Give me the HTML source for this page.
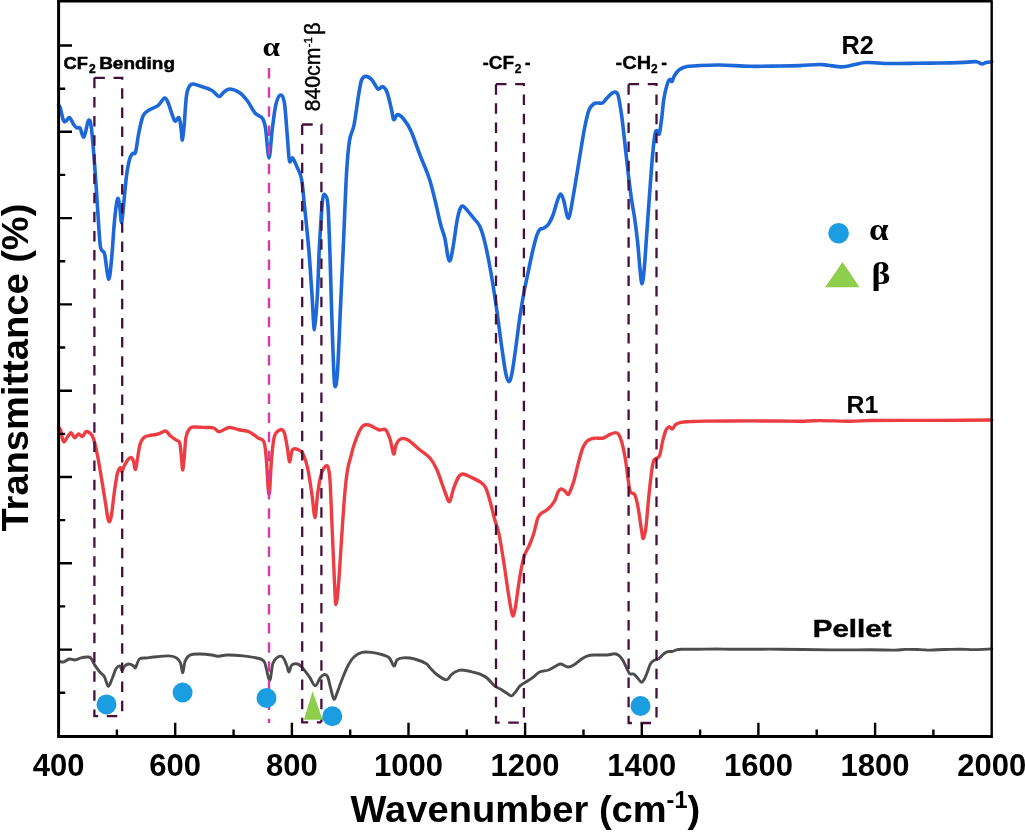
<!DOCTYPE html>
<html lang="en"><head><meta charset="utf-8"><title>FTIR spectra</title>
<style>html,body{margin:0;padding:0;background:#fff;overflow:hidden}svg{display:block}text{font-family:"Liberation Sans",sans-serif;fill:#000}.b{font-weight:700}.h{stroke:#000;stroke-width:.5}.h2{stroke:#000;stroke-width:.45}.h3{stroke:#000;stroke-width:.3}.gk{font-family:"Liberation Serif","DejaVu Serif",serif;font-weight:700}.dash{fill:none;stroke:#47103c;stroke-width:2.3;stroke-dasharray:10.5 8.64}</style></head><body>
<svg width="1025" height="832" viewBox="0 0 1025 832">
<rect x="0" y="0" width="1025" height="832" fill="#fff"/>
<path d="M58.7 661.0C59.5 661.2 61.6 662.3 63.4 662.0C65.2 661.7 67.4 659.3 69.3 659.0C71.2 658.7 73.0 660.2 75.0 660.0C77.0 659.8 79.0 658.4 81.0 657.9C83.0 657.4 85.2 657.0 86.8 657.0C88.4 657.0 89.4 656.6 90.7 657.9C92.0 659.2 93.0 662.4 94.6 664.9C96.2 667.4 98.9 670.8 100.5 672.7C102.1 674.7 103.1 674.3 104.4 676.6C105.7 678.9 107.0 686.0 108.3 686.3C109.6 686.6 110.9 681.4 112.2 678.5C113.5 675.6 114.7 670.9 116.0 668.8C117.3 666.7 119.0 665.7 120.0 666.0C121.0 666.3 121.2 670.7 122.0 670.7C122.8 670.7 123.5 667.1 124.7 666.0C125.9 664.9 127.5 664.0 129.0 664.0C130.5 664.0 132.6 665.4 133.7 666.0C134.8 666.6 134.6 668.8 135.6 667.6C136.6 666.4 137.6 660.6 139.5 659.0C141.4 657.4 144.4 658.3 147.3 657.9C150.2 657.5 153.4 657.0 157.0 656.7C160.6 656.4 165.5 655.7 168.8 655.9C172.1 656.1 174.7 656.7 176.6 657.9C178.5 659.1 179.5 660.5 180.5 663.0C181.5 665.5 182.0 673.0 182.8 672.7C183.6 672.4 184.0 664.0 185.2 661.0C186.4 658.0 187.7 656.2 190.2 655.0C192.7 653.8 196.4 654.0 200.0 654.0C203.6 654.0 208.8 654.6 211.7 655.0C214.6 655.4 215.0 656.3 217.6 656.3C220.2 656.3 223.1 655.1 227.3 655.0C231.5 654.9 238.1 655.4 243.0 655.9C247.9 656.4 253.0 657.0 256.6 658.0C260.2 659.0 262.2 658.2 264.4 662.0C266.5 665.8 268.1 680.3 269.5 680.5C270.9 680.7 271.6 666.9 273.0 663.0C274.4 659.1 276.4 658.0 278.0 657.0C279.6 656.0 281.3 655.7 282.7 657.0C284.1 658.3 285.6 662.5 286.6 665.0C287.7 667.5 288.1 672.0 289.0 672.0C289.9 672.0 290.3 666.3 291.7 665.0C293.1 663.7 296.0 663.7 297.6 664.0C299.2 664.3 299.6 664.7 301.5 666.8C303.4 668.9 307.0 673.4 309.3 676.6C311.6 679.8 313.4 685.6 315.2 685.8C317.0 686.0 318.7 679.7 320.2 677.8C321.7 675.9 322.8 674.8 324.0 674.6C325.2 674.4 326.5 674.3 327.6 676.6C328.7 678.9 329.6 684.5 330.7 688.3C331.8 692.1 332.8 698.6 333.9 699.2C335.0 699.8 336.0 695.5 337.4 692.0C338.8 688.5 340.6 683.0 342.4 678.5C344.2 674.0 346.4 668.6 348.3 665.0C350.2 661.4 351.7 659.1 354.0 657.0C356.3 654.9 359.1 653.2 362.0 652.4C364.9 651.6 368.1 652.0 371.7 652.4C375.3 652.8 380.5 654.1 383.4 655.0C386.3 655.9 387.5 656.1 389.3 657.9C391.1 659.7 392.7 665.6 394.0 666.0C395.3 666.4 395.5 661.4 397.0 660.0C398.5 658.6 400.1 658.1 403.0 657.9C405.9 657.7 410.7 658.0 414.6 659.0C418.5 660.0 423.7 662.2 426.3 663.7C428.9 665.2 428.1 665.9 430.0 667.8C431.9 669.7 434.8 673.0 437.5 675.0C440.2 677.0 444.2 679.9 446.5 679.9C448.8 679.9 449.5 676.4 451.0 675.0C452.5 673.6 453.8 672.6 455.5 671.8C457.2 671.0 458.8 670.0 461.5 670.0C464.2 670.0 469.0 671.1 472.0 671.8C475.0 672.4 477.0 672.9 479.5 673.9C482.0 674.9 484.5 676.0 487.0 678.0C489.5 680.0 492.1 683.9 494.6 685.9C497.1 687.9 499.8 688.6 502.0 690.0C504.2 691.4 506.4 693.0 508.0 694.0C509.6 695.0 510.4 696.1 511.7 695.8C513.0 695.4 514.2 693.5 515.6 691.9C517.0 690.2 518.0 687.7 520.0 685.9C522.0 684.1 525.3 682.5 527.6 681.0C529.9 679.5 531.6 678.4 533.6 676.9C535.6 675.4 537.1 673.1 539.6 672.0C542.1 670.9 545.9 671.0 548.6 670.0C551.3 669.0 553.9 667.0 556.0 666.0C558.1 665.0 559.0 663.8 561.0 664.0C563.0 664.2 565.8 666.9 568.0 667.0C570.2 667.1 571.7 666.1 574.0 664.8C576.3 663.5 579.3 660.5 581.6 659.0C583.9 657.5 585.5 656.5 587.7 655.8C589.9 655.1 591.8 655.1 595.0 655.0C598.2 654.9 603.7 655.2 607.0 655.0C610.3 654.8 612.7 653.6 614.7 653.7C616.7 653.8 617.6 654.5 619.0 655.6C620.4 656.7 621.7 658.4 623.0 660.5C624.3 662.6 625.7 666.1 626.8 668.3C627.9 670.5 628.6 672.8 629.8 673.8C630.9 674.8 632.4 673.3 633.7 674.0C635.0 674.7 636.3 676.6 637.6 678.0C638.9 679.4 640.4 682.1 641.5 682.3C642.6 682.5 643.4 680.7 644.4 679.0C645.4 677.3 646.3 674.6 647.3 672.2C648.3 669.8 649.2 666.3 650.2 664.4C651.2 662.5 652.1 661.7 653.2 660.9C654.3 660.1 655.9 660.0 657.0 659.5C658.1 659.0 658.8 658.6 660.0 657.6C661.2 656.6 662.7 654.7 664.0 653.7C665.3 652.7 666.3 652.1 667.8 651.7C669.2 651.3 671.2 651.6 672.7 651.3C674.2 651.0 675.1 650.1 676.6 649.8C678.1 649.4 678.1 649.3 681.5 649.2C684.9 649.1 691.1 649.3 697.0 649.3C702.9 649.3 710.1 649.0 716.6 649.0C723.1 649.0 725.4 649.3 736.0 649.3C746.6 649.3 764.3 649.1 780.0 649.2C795.7 649.3 815.0 649.8 830.0 649.9C845.0 650.0 859.2 649.8 870.0 649.8C880.8 649.8 889.2 650.2 895.0 650.1C900.8 650.0 900.8 649.5 905.0 649.4C909.2 649.3 915.8 649.5 920.0 649.6C924.2 649.7 925.8 650.1 930.0 650.1C934.2 650.1 940.0 649.6 945.0 649.5C950.0 649.4 955.0 649.2 960.0 649.2C965.0 649.2 969.7 649.7 975.0 649.6C980.3 649.5 989.0 649.0 991.8 648.9" fill="none" stroke="#4d4d4d" stroke-width="2.9" stroke-linejoin="round" stroke-linecap="round"/>
<path d="M58.5 428.0C58.8 428.3 59.7 427.3 60.5 429.6C61.3 431.9 62.4 440.4 63.5 441.6C64.7 442.8 66.2 438.5 67.4 437.0C68.7 435.5 69.8 432.5 71.0 432.6C72.2 432.7 73.3 437.5 74.6 437.7C75.8 437.9 77.2 434.2 78.5 434.0C79.8 433.8 81.2 436.9 82.4 436.5C83.7 436.1 84.7 432.2 86.0 431.7C87.3 431.2 89.2 432.4 90.5 433.5C91.8 434.6 92.3 435.0 93.5 438.6C94.7 442.2 96.1 448.3 97.4 455.0C98.8 461.7 100.2 471.0 101.6 479.0C102.9 487.0 104.5 496.7 105.5 503.0C106.5 509.3 106.9 513.6 107.6 516.7C108.2 519.8 108.8 522.1 109.4 521.8C110.1 521.5 110.7 520.1 111.5 515.0C112.3 509.9 113.5 498.0 114.5 491.0C115.5 484.0 116.5 476.9 117.5 473.0C118.5 469.1 119.8 467.9 120.5 467.7C121.2 467.5 121.3 472.0 122.0 471.6C122.7 471.2 123.4 467.6 124.4 465.6C125.4 463.6 126.9 461.0 128.0 459.6C129.1 458.2 130.1 457.3 131.0 457.5C131.9 457.7 132.7 459.0 133.4 461.0C134.2 463.0 134.8 470.0 135.5 469.5C136.2 469.0 136.8 462.1 137.6 458.0C138.3 453.9 139.0 448.0 140.0 444.6C141.0 441.2 142.2 439.2 143.7 437.7C145.2 436.2 146.6 436.2 149.0 435.6C151.4 435.0 155.2 434.8 158.0 434.0C160.8 433.2 163.6 430.7 165.6 431.0C167.6 431.3 168.3 434.1 170.0 435.6C171.7 437.1 174.4 438.8 176.0 440.0C177.6 441.2 178.8 440.0 179.7 443.0C180.6 446.0 181.0 453.5 181.5 458.0C182.0 462.5 182.2 470.0 182.7 470.0C183.1 470.0 183.6 463.5 184.2 458.0C184.8 452.5 185.1 441.9 186.0 437.0C186.9 432.1 188.3 430.4 189.6 428.7C190.9 427.0 191.3 427.2 194.0 427.0C196.7 426.8 202.7 427.3 206.0 427.5C209.3 427.7 211.5 427.3 213.6 428.0C215.7 428.7 217.1 431.4 218.8 431.7C220.5 432.0 222.1 430.3 224.0 429.6C225.9 428.9 227.3 427.4 230.0 427.5C232.7 427.6 236.8 429.3 240.0 430.0C243.2 430.7 246.0 430.4 249.0 431.7C252.0 433.0 255.5 436.1 258.0 437.8C260.5 439.5 262.6 438.3 264.0 442.0C265.4 445.7 265.6 451.2 266.4 460.0C267.2 468.8 268.1 495.0 269.0 495.0C269.9 495.0 270.6 469.8 271.5 460.0C272.4 450.2 273.0 441.1 274.5 436.0C276.0 430.9 278.9 430.2 280.5 429.7C282.1 429.2 283.2 429.9 284.4 433.0C285.5 436.1 286.5 443.2 287.4 448.0C288.2 452.8 288.6 461.5 289.5 461.8C290.4 462.1 291.0 451.8 292.5 449.8C294.0 447.8 296.9 449.1 298.6 449.8C300.4 450.5 301.5 451.0 303.0 454.0C304.5 457.0 306.1 461.2 307.6 468.0C309.1 474.8 310.8 486.7 312.0 495.0C313.2 503.3 314.1 517.6 315.0 517.6C315.9 517.6 316.6 501.8 317.5 495.0C318.4 488.2 319.4 481.5 320.5 477.0C321.6 472.5 322.8 469.8 324.0 468.0C325.2 466.2 326.7 464.5 327.7 466.5C328.7 468.5 329.3 470.2 330.0 480.0C330.7 489.8 331.2 507.5 332.0 525.0C332.8 542.5 333.9 571.7 334.6 585.0C335.3 598.3 335.4 604.7 336.0 604.7C336.6 604.7 337.6 595.8 338.5 585.0C339.4 574.2 340.5 554.7 341.5 540.0C342.5 525.3 343.5 508.7 344.5 497.0C345.5 485.3 346.4 476.8 347.5 470.0C348.6 463.2 349.9 460.2 351.0 456.0C352.1 451.8 352.7 448.8 354.0 445.0C355.3 441.2 357.1 436.2 358.6 433.0C360.1 429.8 361.3 427.1 363.0 425.8C364.7 424.5 367.0 424.6 369.0 425.0C371.0 425.4 373.2 427.2 375.0 428.0C376.8 428.8 377.8 429.7 379.6 430.0C381.4 430.3 383.9 428.2 385.6 429.7C387.3 431.2 388.6 434.9 390.0 439.0C391.4 443.1 392.7 453.0 393.7 454.0C394.7 455.0 394.9 447.5 396.0 445.0C397.1 442.5 398.6 439.8 400.6 439.0C402.6 438.2 404.8 438.2 408.0 440.0C411.2 441.8 416.3 447.0 420.0 450.0C423.7 453.0 427.2 454.7 430.0 458.0C432.8 461.3 434.5 464.3 437.0 470.0C439.5 475.7 442.9 486.7 445.0 492.0C447.1 497.3 448.1 502.2 449.5 501.7C450.9 501.2 451.9 493.1 453.4 489.0C454.9 484.9 456.9 479.5 458.5 477.0C460.1 474.5 460.8 473.9 463.0 474.0C465.2 474.1 469.0 476.2 472.0 477.6C475.0 479.0 478.7 480.8 481.0 482.5C483.3 484.2 484.1 484.5 485.6 487.6C487.1 490.7 488.5 495.8 490.0 501.0C491.5 506.2 493.1 513.5 494.6 519.0C496.1 524.5 497.5 527.0 499.0 534.0C500.5 541.0 502.1 551.5 503.6 561.0C505.1 570.5 506.8 583.0 508.0 591.0C509.2 599.0 510.1 604.9 511.0 609.0C511.9 613.1 512.4 616.4 513.2 615.9C514.0 615.4 514.7 611.1 515.6 606.0C516.5 600.9 517.6 591.5 518.6 585.0C519.6 578.5 520.6 572.0 521.6 567.0C522.6 562.0 523.4 558.5 524.6 555.0C525.8 551.5 527.5 549.5 529.0 546.0C530.5 542.5 532.1 538.7 533.6 534.0C535.1 529.3 536.5 521.2 538.0 517.6C539.5 514.0 540.8 514.0 542.6 512.5C544.4 511.0 546.6 510.5 548.6 508.6C550.6 506.7 553.0 503.8 554.6 501.0C556.2 498.2 556.9 494.0 558.0 492.0C559.1 490.0 559.9 489.2 561.0 489.0C562.1 488.8 563.3 489.7 564.5 490.6C565.7 491.5 567.2 494.8 568.3 494.5C569.4 494.2 570.1 491.1 571.0 489.0C571.9 486.9 572.5 485.7 573.7 481.6C574.9 477.5 576.6 469.8 578.0 464.4C579.4 459.0 581.0 453.0 582.2 449.4C583.5 445.8 584.4 444.6 585.5 443.0C586.6 441.4 587.3 440.8 588.7 440.0C590.1 439.2 591.7 438.5 594.0 438.2C596.3 437.9 600.5 438.5 602.6 438.2C604.7 437.9 605.3 437.1 606.5 436.5C607.7 435.9 608.5 435.0 610.0 434.4C611.5 433.8 614.0 432.6 615.5 432.6C617.0 432.6 617.6 432.7 618.7 434.4C619.8 436.1 620.9 439.1 622.0 443.0C623.1 446.9 624.1 451.6 625.2 458.0C626.3 464.4 627.5 475.9 628.4 481.6C629.3 487.3 629.4 489.8 630.5 492.0C631.6 494.2 633.5 492.3 634.8 494.8C636.0 497.3 636.9 501.3 638.0 507.0C639.1 512.7 640.4 523.6 641.3 528.8C642.2 534.0 642.5 538.8 643.3 538.4C644.1 538.0 645.1 533.7 646.0 526.7C646.9 519.7 647.8 506.3 648.8 496.6C649.8 486.9 651.1 474.8 652.0 468.7C652.9 462.6 652.9 462.1 654.1 460.0C655.4 457.9 658.1 459.0 659.5 455.8C660.9 452.6 661.6 445.1 662.7 440.8C663.8 436.5 664.9 432.3 666.0 430.0C667.1 427.7 668.1 427.0 669.2 426.8C670.3 426.6 671.3 429.4 672.4 429.0C673.5 428.6 674.2 425.8 675.6 424.7C677.0 423.6 678.6 422.8 681.0 422.3C683.4 421.8 686.0 421.8 690.0 421.6C694.0 421.4 695.0 421.2 705.0 421.1C715.0 421.0 737.5 420.9 750.0 420.9C762.5 420.9 771.7 420.9 780.0 421.0C788.3 421.1 793.3 421.4 800.0 421.3C806.7 421.2 811.7 420.6 820.0 420.6C828.3 420.6 841.7 421.2 850.0 421.2C858.3 421.2 861.7 420.6 870.0 420.5C878.3 420.4 888.3 420.4 900.0 420.4C911.7 420.4 924.7 420.5 940.0 420.4C955.3 420.3 983.2 420.1 991.8 420.0" fill="none" stroke="#ec3d42" stroke-width="3.4" stroke-linejoin="round" stroke-linecap="round"/>
<path d="M58.5 105.0C58.8 105.5 59.5 105.4 60.3 108.0C61.1 110.6 62.5 118.4 63.5 120.6C64.5 122.8 65.0 121.5 66.0 121.0C67.0 120.5 68.2 116.9 69.5 117.6C70.8 118.3 72.8 123.3 74.0 125.0C75.2 126.7 76.0 127.5 77.0 128.0C78.0 128.5 78.8 126.5 80.0 128.0C81.2 129.5 82.6 138.2 84.0 137.0C85.4 135.8 87.2 122.1 88.4 120.6C89.6 119.1 90.3 119.8 91.4 128.0C92.5 136.2 93.9 155.5 95.0 170.0C96.1 184.5 97.1 202.2 98.0 215.0C98.9 227.8 99.4 240.5 100.5 247.0C101.6 253.5 103.3 248.7 104.6 254.0C105.9 259.3 107.3 278.0 108.5 279.0C109.7 280.0 110.5 269.7 111.5 260.0C112.5 250.3 113.5 231.2 114.5 221.0C115.5 210.8 116.6 201.5 117.5 199.0C118.4 196.5 119.0 202.1 119.7 206.0C120.4 209.9 120.9 222.7 121.5 222.7C122.1 222.7 122.7 213.8 123.5 206.0C124.3 198.2 125.5 183.7 126.5 176.0C127.5 168.3 128.5 163.3 129.5 159.6C130.5 155.9 131.5 154.9 132.5 153.6C133.5 152.3 134.6 155.3 135.6 152.0C136.6 148.7 137.4 140.0 138.6 134.0C139.8 128.0 141.3 120.0 143.0 116.0C144.7 112.0 146.5 111.7 149.0 110.0C151.5 108.3 155.4 107.6 158.0 105.6C160.6 103.6 162.9 98.3 164.7 98.0C166.5 97.7 166.9 100.2 168.6 104.0C170.2 107.8 172.9 118.3 174.6 120.6C176.3 122.9 177.9 116.4 179.0 117.6C180.1 118.8 180.4 124.3 181.0 128.0C181.6 131.7 181.9 140.5 182.4 140.0C182.9 139.5 183.5 132.5 184.2 125.0C184.9 117.5 185.5 101.8 186.6 95.0C187.7 88.2 188.8 86.0 191.0 84.5C193.2 83.0 196.5 85.0 200.0 86.0C203.5 87.0 208.8 88.8 212.0 90.5C215.2 92.2 217.0 96.2 219.0 96.5C221.0 96.8 222.2 93.2 224.0 92.0C225.8 90.8 227.3 88.8 230.0 89.0C232.7 89.2 237.1 91.0 240.0 93.0C242.9 95.0 245.0 97.7 247.5 101.0C250.0 104.3 252.5 110.1 255.0 113.0C257.5 115.9 260.8 116.0 262.5 118.5C264.2 121.0 264.4 121.4 265.5 128.0C266.6 134.6 267.9 158.0 269.0 158.0C270.1 158.0 271.2 137.0 272.4 128.0C273.6 119.0 274.6 109.5 276.0 104.0C277.4 98.5 279.1 95.2 280.5 95.0C281.9 94.8 283.2 95.6 284.4 102.6C285.5 109.6 286.5 127.3 287.4 137.0C288.2 146.7 288.6 157.5 289.5 161.0C290.4 164.5 291.2 157.0 292.5 158.0C293.8 159.0 295.5 163.5 297.0 167.0C298.5 170.5 300.2 172.5 301.5 179.0C302.8 185.5 303.2 193.8 304.5 206.0C305.8 218.2 307.8 237.2 309.0 252.0C310.2 266.8 311.1 282.1 312.0 295.0C312.9 307.9 313.6 329.9 314.5 329.6C315.4 329.3 316.7 307.1 317.5 293.0C318.3 278.9 318.6 260.5 319.5 245.0C320.4 229.5 321.6 208.2 322.6 200.0C323.6 191.8 324.7 194.7 325.6 195.7C326.5 196.7 327.3 196.1 328.0 206.0C328.7 215.9 329.4 237.7 330.0 255.0C330.6 272.3 331.0 290.8 331.6 310.0C332.2 329.2 333.1 357.2 333.7 370.0C334.3 382.8 334.5 386.7 335.2 386.7C335.9 386.7 336.7 383.6 337.6 370.0C338.5 356.4 339.6 326.7 340.6 305.0C341.6 283.3 342.6 262.2 343.6 240.0C344.6 217.8 345.6 188.7 346.6 172.0C347.6 155.3 348.4 147.8 349.6 140.0C350.8 132.2 352.5 132.5 354.0 125.0C355.5 117.5 357.3 102.5 358.6 95.0C359.9 87.5 360.4 83.1 361.6 80.0C362.8 76.9 364.3 76.4 366.0 76.4C367.7 76.4 370.0 77.9 372.0 80.0C374.0 82.1 376.2 87.9 378.0 89.0C379.8 90.1 381.1 86.1 382.6 86.6C384.1 87.1 385.5 88.1 387.0 92.0C388.5 95.9 390.5 105.4 391.6 110.0C392.7 114.6 392.7 118.9 393.7 119.7C394.7 120.5 396.0 114.7 397.6 114.6C399.2 114.5 401.4 116.3 403.6 119.0C405.8 121.7 408.3 125.0 411.0 131.0C413.7 137.0 417.0 147.2 420.0 155.0C423.0 162.8 426.5 170.2 429.0 177.7C431.5 185.2 433.1 192.3 435.0 200.0C436.9 207.7 438.8 217.5 440.5 224.0C442.2 230.5 443.8 233.5 445.0 239.0C446.2 244.5 447.1 253.5 448.0 257.0C448.9 260.5 449.5 262.0 450.4 260.0C451.3 258.0 452.3 251.5 453.4 245.0C454.5 238.5 455.9 227.0 457.0 221.0C458.1 215.0 459.0 211.5 460.0 209.0C461.0 206.5 461.8 205.7 463.0 206.0C464.2 206.3 465.8 208.7 467.5 210.7C469.2 212.7 471.5 215.5 473.5 218.0C475.5 220.5 477.8 222.3 479.5 225.8C481.2 229.3 482.5 233.3 484.0 239.0C485.5 244.7 487.1 252.3 488.6 260.0C490.1 267.7 491.5 275.7 493.0 285.0C494.5 294.3 496.1 305.3 497.6 316.0C499.1 326.7 500.6 339.5 502.0 349.0C503.4 358.5 504.6 367.6 505.7 373.0C506.8 378.4 507.7 381.3 508.7 381.6C509.7 381.9 510.5 380.1 511.7 374.7C512.9 369.3 514.2 358.8 515.6 349.0C517.0 339.2 518.5 326.0 520.0 316.0C521.5 306.0 523.3 295.8 524.6 289.0C525.9 282.2 526.4 280.8 527.6 275.0C528.8 269.2 530.5 260.5 532.0 254.0C533.5 247.5 535.3 240.1 536.6 236.0C537.9 231.9 538.4 231.0 539.6 229.7C540.8 228.4 542.5 228.9 544.0 228.0C545.5 227.1 547.1 226.2 548.6 224.0C550.1 221.8 551.5 219.0 553.0 215.0C554.5 211.0 556.3 203.5 557.6 200.0C558.9 196.5 559.6 194.0 560.6 194.0C561.6 194.0 562.6 196.7 563.6 200.0C564.6 203.3 565.8 210.7 566.6 213.7C567.5 216.7 568.0 218.8 568.7 218.0C569.4 217.2 569.9 215.0 571.0 209.0C572.1 203.0 574.1 191.0 575.6 182.0C577.1 173.0 578.5 164.0 580.0 155.0C581.5 146.0 583.1 135.5 584.6 128.0C586.1 120.5 587.5 114.0 589.0 110.0C590.5 106.0 592.1 105.2 593.6 104.0C595.1 102.8 596.5 103.2 598.0 103.0C599.5 102.8 601.1 103.8 602.6 103.0C604.1 102.2 605.5 99.6 607.0 98.0C608.5 96.4 610.3 94.5 611.6 93.5C612.9 92.5 613.9 91.8 615.0 92.0C616.1 92.2 617.1 92.3 618.0 95.0C618.9 97.7 619.8 103.5 620.5 108.0C621.2 112.5 621.7 115.2 622.5 122.0C623.3 128.8 624.5 140.0 625.5 149.0C626.5 158.0 627.5 167.5 628.5 176.0C629.5 184.5 630.6 193.0 631.6 200.0C632.6 207.0 633.6 211.0 634.6 218.0C635.6 225.0 636.7 233.5 637.6 242.0C638.5 250.5 639.3 262.0 640.0 269.0C640.7 276.0 641.3 283.8 642.0 283.8C642.7 283.8 643.4 277.0 644.2 269.0C645.0 261.0 645.7 248.5 646.6 236.0C647.5 223.5 648.6 207.5 649.6 194.0C650.6 180.5 651.7 165.0 652.6 155.0C653.5 145.0 654.3 138.1 655.0 134.0C655.7 129.9 656.3 130.5 657.0 130.5C657.7 130.5 658.4 135.9 659.2 134.0C660.0 132.1 660.8 125.0 661.6 119.0C662.4 113.0 663.0 104.0 664.0 98.0C665.0 92.0 666.6 86.1 667.6 83.0C668.6 79.9 669.3 79.7 670.0 79.4C670.7 79.2 671.2 82.2 672.0 81.5C672.8 80.8 673.2 77.5 674.5 75.5C675.8 73.5 677.5 71.0 679.6 69.5C681.7 68.0 683.8 67.2 687.0 66.5C690.2 65.8 693.5 65.8 699.0 65.6C704.5 65.3 711.5 64.9 720.0 65.0C728.5 65.1 740.0 66.1 750.0 66.3C760.0 66.5 771.7 66.1 780.0 66.0C788.3 65.9 793.5 65.8 800.0 65.6C806.5 65.3 814.3 64.6 819.0 64.5C823.7 64.4 824.1 64.8 828.0 65.2C831.9 65.6 837.9 67.0 842.4 66.9C846.9 66.8 851.1 65.2 855.0 64.5C858.9 63.8 860.1 62.7 865.9 62.5C871.7 62.3 881.4 63.4 890.0 63.5C898.6 63.6 909.4 63.3 917.7 63.2C926.0 63.1 932.2 63.1 940.0 63.0C947.8 62.9 958.5 62.6 964.5 62.4C970.5 62.2 973.3 61.4 976.2 61.7C979.1 62.0 980.4 63.9 982.0 64.0C983.6 64.1 984.4 62.9 986.0 62.5C987.6 62.1 990.8 61.8 991.8 61.7" fill="none" stroke="#1d68d8" stroke-width="3.6" stroke-linejoin="round" stroke-linecap="round"/>
<path class="dash" d="M94.4 77.8H122.2V716.2"/>
<path class="dash" d="M94.4 77.8V716.2H122.2"/>
<path class="dash" d="M302.2 124.5H321.4V722.3"/>
<path class="dash" d="M302.2 124.5V722.3H321.4"/>
<path class="dash" d="M496.0 84.2H523.9V722.7"/>
<path class="dash" d="M496.0 84.2V722.7H523.9"/>
<path class="dash" d="M628.6 84.2H656.5V723.0"/>
<path class="dash" d="M628.6 84.2V723.0H656.5"/>
<path d="M269 68V723" fill="none" stroke="#d63aa8" stroke-width="2.4" stroke-dasharray="10.5 8.64"/>
<circle cx="106.5" cy="704.4" r="10" fill="#1b9de2"/>
<circle cx="182.6" cy="692.5" r="10" fill="#1b9de2"/>
<circle cx="266.5" cy="698.0" r="10" fill="#1b9de2"/>
<circle cx="332.3" cy="716.2" r="10" fill="#1b9de2"/>
<circle cx="640.5" cy="706.0" r="10" fill="#1b9de2"/>
<path d="M312.6 691.3L322.6 719.7H303.9Z" fill="#8fce4d"/>
<circle cx="838.6" cy="233.3" r="10.3" fill="#1b9de2"/>
<path d="M842.6 262.1L859.5 287.2H825.1Z" fill="#8fce4d"/>
<text class="gk" x="869" y="240.3" font-size="31" textLength="19.6" lengthAdjust="spacingAndGlyphs">α</text>
<text class="gk" x="871.6" y="284.2" font-size="32" textLength="19" lengthAdjust="spacingAndGlyphs">β</text>
<path d="M57.1 1.3H992.7" fill="none" stroke="#000" stroke-width="2.6"/>
<path d="M991.7 1.3V737.8" fill="none" stroke="#000" stroke-width="2.4"/>
<path d="M58.6 1.3V736.4H992.7" fill="none" stroke="#000" stroke-width="3"/>
<path d="M58.6 45.5h13.4M58.6 131.8h13.4M58.6 218.1h13.4M58.6 304.4h13.4M58.6 390.7h13.4M58.6 477.0h13.4M58.6 563.3h13.4M58.6 649.6h13.4M58.6 88.7h6.6M58.6 174.9h6.6M58.6 261.2h6.6M58.6 347.5h6.6M58.6 433.9h6.6M58.6 520.1h6.6M58.6 606.4h6.6M58.6 692.8h6.6M175.2 736.4v-13.6M291.9 736.4v-13.6M408.5 736.4v-13.6M525.1 736.4v-13.6M641.8 736.4v-13.6M758.4 736.4v-13.6M875.1 736.4v-13.6M116.9 736.4v-6.8M233.6 736.4v-6.8M350.2 736.4v-6.8M466.8 736.4v-6.8M583.5 736.4v-6.8M700.1 736.4v-6.8M816.7 736.4v-6.8M933.4 736.4v-6.8" fill="none" stroke="#000" stroke-width="2.4"/>
<text class="b" x="58.6" y="775.5" font-size="31" text-anchor="middle">400</text>
<text class="b" x="175.2" y="775.5" font-size="31" text-anchor="middle">600</text>
<text class="b" x="291.9" y="775.5" font-size="31" text-anchor="middle">800</text>
<text class="b" x="408.5" y="775.5" font-size="31" text-anchor="middle">1000</text>
<text class="b" x="525.1" y="775.5" font-size="31" text-anchor="middle">1200</text>
<text class="b" x="641.8" y="775.5" font-size="31" text-anchor="middle">1400</text>
<text class="b" x="758.4" y="775.5" font-size="31" text-anchor="middle">1600</text>
<text class="b" x="875.1" y="775.5" font-size="31" text-anchor="middle">1800</text>
<text class="b" x="991.7" y="775.5" font-size="31" text-anchor="middle">2000</text>
<text class="b" x="350.6" y="822.4" font-size="37.5" textLength="349.5" lengthAdjust="spacingAndGlyphs">Wavenumber (cm<tspan dy="-14" font-size="23">-1</tspan><tspan dy="14">)</tspan></text>
<text class="b" transform="translate(28.2 531.6) rotate(-90)" font-size="37.5" textLength="328" lengthAdjust="spacingAndGlyphs">Transmittance (%)</text>
<text class="b h" x="63.6" y="68.6" font-size="16.6" textLength="24.3" lengthAdjust="spacingAndGlyphs">CF</text>
<text class="b h" x="88.9" y="73" font-size="12">2</text>
<text class="b h" x="99.2" y="68.6" font-size="16.6" textLength="75.8" lengthAdjust="spacingAndGlyphs">Bending</text>
<text class="b h3" x="482.4" y="69.3" font-size="17.5" textLength="31.6" lengthAdjust="spacingAndGlyphs">-CF</text>
<text class="b h3" x="514.7" y="73.1" font-size="12">2</text>
<text class="b h3" x="524.7" y="69.3" font-size="17.5">-</text>
<text class="b h3" x="615.6" y="69.3" font-size="17.5" textLength="35.6" lengthAdjust="spacingAndGlyphs">-CH</text>
<text class="b h3" x="651" y="73.1" font-size="12">2</text>
<text class="b h3" x="661.2" y="69.3" font-size="17.5">-</text>
<text class="gk" x="262.6" y="55.7" font-size="27" textLength="17.5" lengthAdjust="spacingAndGlyphs">α</text>
<text class="h2" transform="translate(320.3 111.3) rotate(-90)" font-size="22" textLength="63.6" lengthAdjust="spacingAndGlyphs">840cm</text>
<text class="h2" transform="translate(312.4 47.3) rotate(-90)" font-size="11.5">-1</text>
<text class="h2" transform="translate(320.3 35) rotate(-90)" font-size="22">β</text>
<text class="b" x="841.5" y="53.6" font-size="25.3">R2</text>
<text class="b" x="846.5" y="413.3" font-size="24.8">R1</text>
<text class="b h2" x="812.7" y="637.4" font-size="24.5" textLength="78.9" lengthAdjust="spacingAndGlyphs">Pellet</text>
</svg></body></html>
